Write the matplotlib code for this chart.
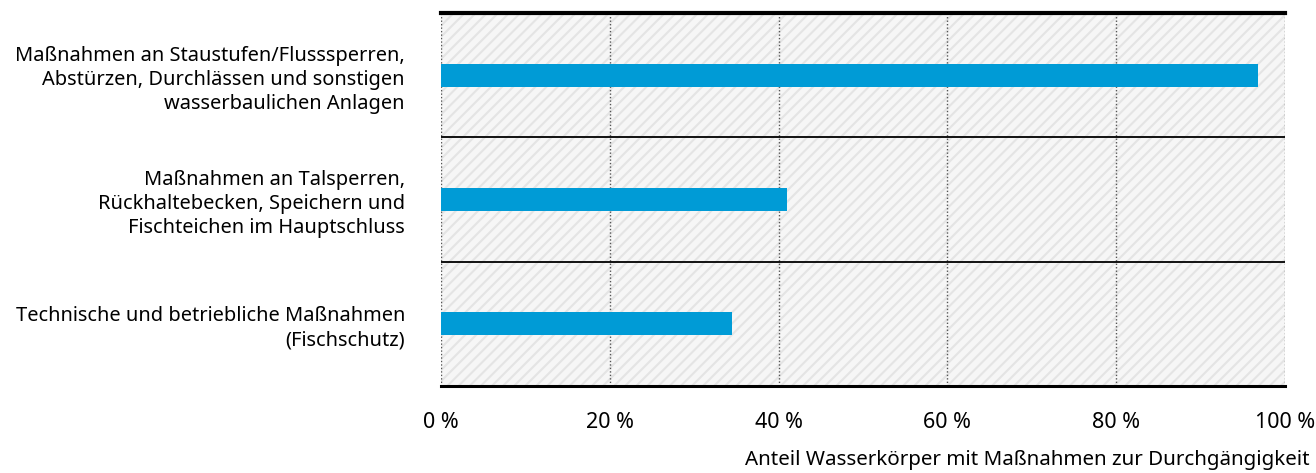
import matplotlib
matplotlib.use("Agg")
import matplotlib.pyplot as plt
from matplotlib.patches import Rectangle

categories = [
    "Maßnahmen an Staustufen/Flusssperren,\nAbstürzen, Durchlässen und sonstigen\nwasserbaulichen Anlagen",
    "Maßnahmen an Talsperren,\nRückhaltebecken, Speichern und\nFischteichen im Hauptschluss",
    "Technische und betriebliche Maßnahmen\n(Fischschutz)",
]
values = [96.8, 41.0, 34.5]
xticks = [0, 20, 40, 60, 80, 100]
xticklabels = ["0 %", "20 %", "40 %", "60 %", "80 %", "100 %"]
xlabel = "Anteil Wasserkörper mit Maßnahmen zur Durchgängigkeit"

plt.rcParams['font.family'] = ['Noto Sans', 'DejaVu Sans']
plt.rcParams['hatch.linewidth'] = 1.5

fig = plt.figure(figsize=(13.16, 4.73), dpi=100)
ax = fig.add_axes([441/1316, 1-386/473, (1285-441)/1316, (386-13)/473])

n = len(categories)
ax.set_xlim(0, 100)
ax.set_ylim(n - 0.5, -0.5)

# hatched background
bg = Rectangle((0, -0.5), 100, n, transform=ax.transData, facecolor='#f6f6f6',
               edgecolor='#e4e4e4', hatch='///', linewidth=0, zorder=0)
ax.add_patch(bg)

ypos = list(range(n))
ax.barh(ypos, values, height=0.185, color='#009BD6', zorder=3)

for x in xticks:
    ax.axvline(x, color='#555555', linestyle=(0, (1, 1.5)), linewidth=1.0, zorder=2)
for y in [0.5, 1.5]:
    ax.axhline(y, color='black', linewidth=1.3, zorder=2)
ax.axhline(-0.5, color='black', linewidth=3, zorder=4, clip_on=False)
ax.axhline(n - 0.5, color='black', linewidth=2.2, zorder=4, clip_on=False)

for s in ax.spines.values():
    s.set_visible(False)

ax.set_yticks(ypos)
ax.set_yticklabels(categories, fontsize=14.4, linespacing=1.27)
ax.tick_params(axis='y', length=0, pad=26)
ax.set_xticks(xticks)
ax.set_xticklabels(xticklabels, fontsize=15.5)
ax.tick_params(axis='x', length=0, pad=19)
for lab in ax.get_yticklabels():
    lab.set_ha('right')

fig.text(1310/1316, 1-465/473, xlabel, ha='right', va='baseline', fontsize=14.8)

fig.savefig("out.png", dpi=100)
